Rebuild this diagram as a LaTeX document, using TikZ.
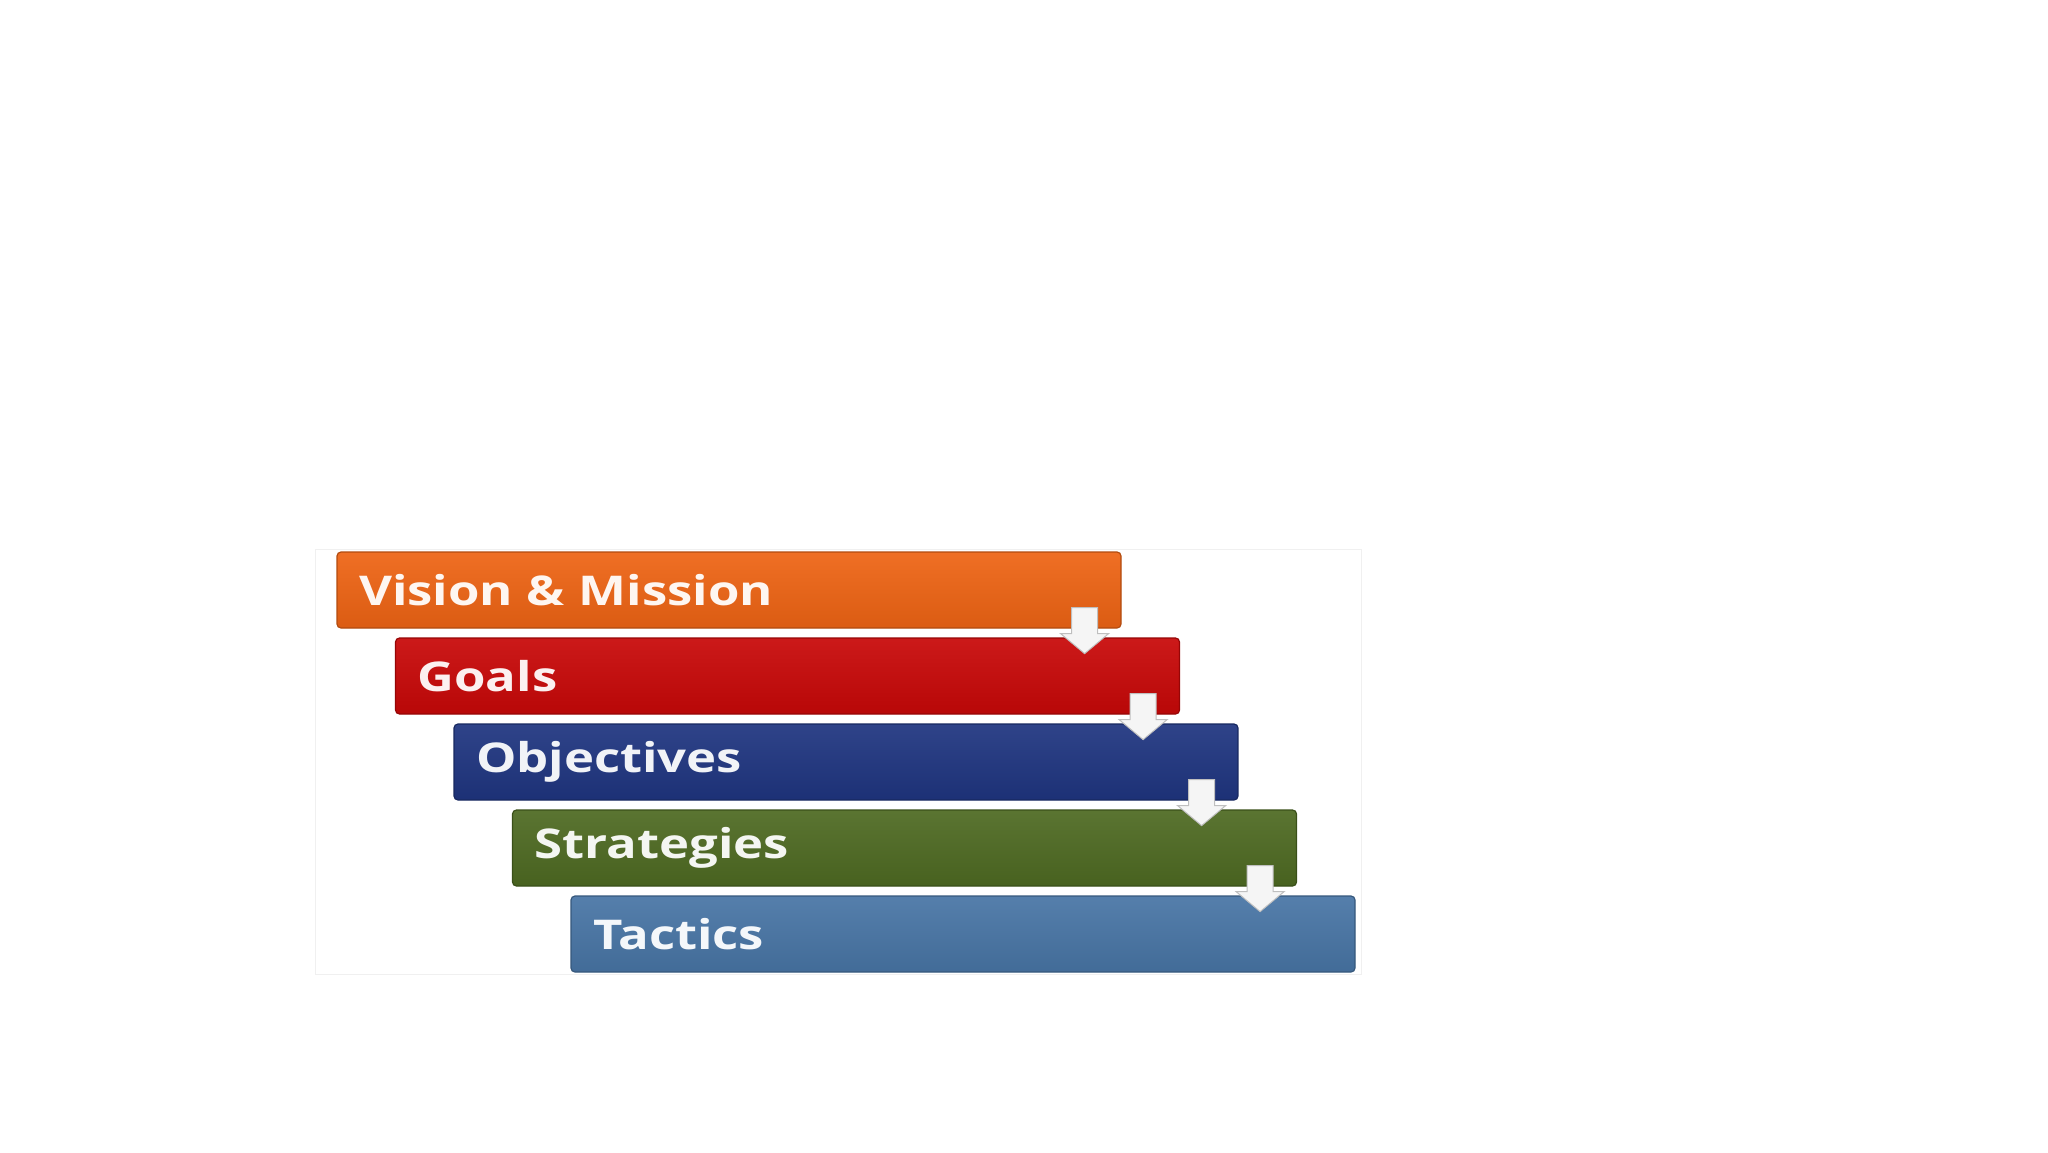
\documentclass[tikz,border=0pt]{standalone}
\usepackage{fontspec}
\setmainfont{Open Sans}[FakeStretch=1.24]
\usetikzlibrary{calc}
\usepackage{xcolor}

\definecolor{visorange}{HTML}{EE6414}
\definecolor{goalred}{HTML}{C80808}
\definecolor{objblue}{HTML}{1F3580}
\definecolor{strgreen}{HTML}{4E6A22}
\definecolor{tacblue}{HTML}{4875A5}

\begin{document}
\begin{tikzpicture}[x=0.5pt,y=-0.5pt,
    stepbar/.style={rectangle, rounded corners=2pt, minimum width=392pt, minimum height=38pt,
        text width=370pt, inner xsep=11pt, align=left, text=white!94!#1,
        font=\bfseries\fontsize{20.5}{24}\selectfont,
        top color=#1!93!white, bottom color=#1!92!black, draw=#1!75!black, line width=0.6pt},
    downarrow/.style={fill=white!92!gray, draw=gray!50, line width=0.5pt}]
            \useasboundingbox (0,0) rectangle (2048,1152);

            % faint frame of the picture
            \draw[black!6] (315,549) rectangle (1361,974);

            % the bars
            \node[stepbar=visorange] (vision) at (729,590) {Vision \& Mission};
            \node[stepbar=goalred] (goals) at (787.5,676) {Goals};
            \node[stepbar=objblue] (objectives) at (846,762) {Objectives};
            \node[stepbar=strgreen] (strategies) at (904.5,848) {Strategies};
            \node[stepbar=tacblue] (tactics) at (963,934) {Tactics};

            % arrows from one bar down to the next
            \draw[downarrow] ($(vision.south east)+(-50,-21)$) -- ++(26,0) -- ++(0,26) -- ++(11,0)
                -- ++(-24,20) -- ++(-24,-20) -- ++(11,0) -- cycle;
            \draw[downarrow] ($(goals.south east)+(-50,-21)$) -- ++(26,0) -- ++(0,26) -- ++(11,0)
                -- ++(-24,20) -- ++(-24,-20) -- ++(11,0) -- cycle;
            \draw[downarrow] ($(objectives.south east)+(-50,-21)$) -- ++(26,0) -- ++(0,26) -- ++(11,0)
                -- ++(-24,20) -- ++(-24,-20) -- ++(11,0) -- cycle;
            \draw[downarrow] ($(strategies.south east)+(-50,-21)$) -- ++(26,0) -- ++(0,26) -- ++(11,0)
                -- ++(-24,20) -- ++(-24,-20) -- ++(11,0) -- cycle;
\end{tikzpicture}
\end{document}
